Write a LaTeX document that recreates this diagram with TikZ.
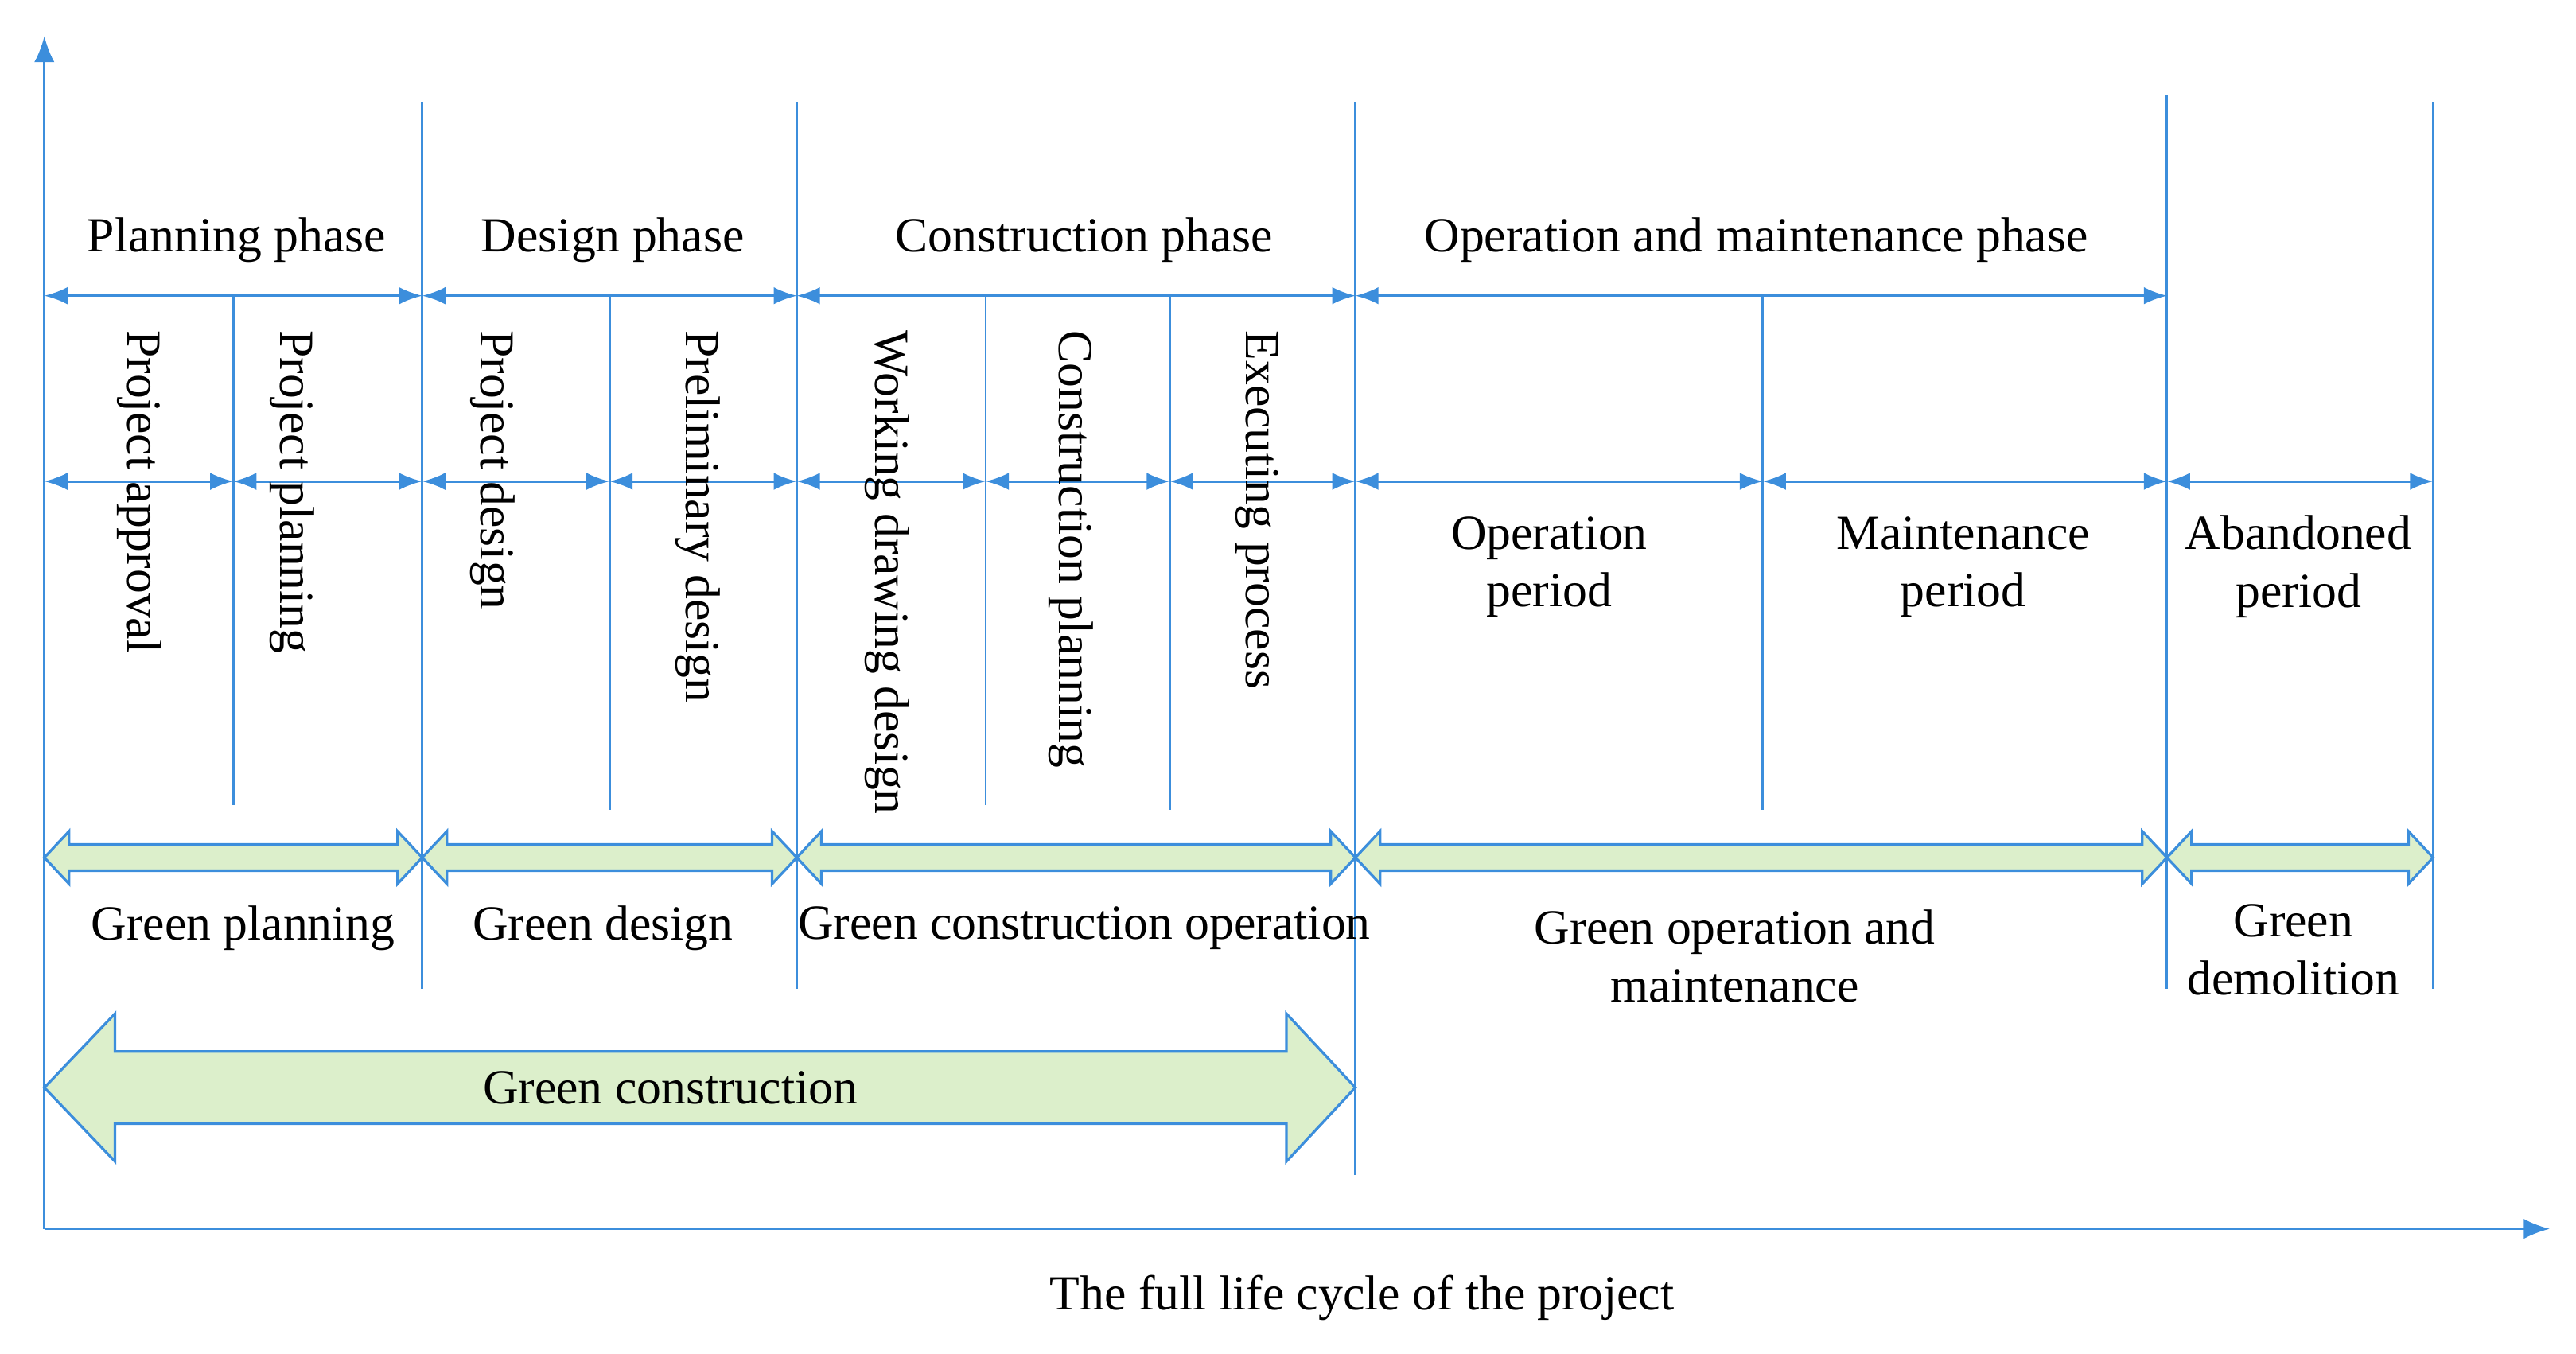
\documentclass[tikz,border=0pt]{standalone}
\usepackage{fontspec}
\setmainfont{Liberation Serif}
\usetikzlibrary{arrows.meta}
\definecolor{lb}{HTML}{3C8EDC}
\definecolor{lg}{HTML}{DCEFCB}
\newcommand\garrow[3]{\filldraw[draw=lb,fill=lg,line width=0.9pt] (#1,#3) -- (#1+15,#3-16) -- (#1+15,#3-8) -- (#2-15,#3-8) -- (#2-15,#3-16) -- (#2,#3) -- (#2-15,#3+16) -- (#2-15,#3+8) -- (#1+15,#3+8) -- (#1+15,#3+16) -- cycle;}
\tikzset{
 ln/.style={draw=lb,line width=0.8pt},
 dar/.style={ln,{Latex[length=8pt,width=6pt]}-{Latex[length=8pt,width=6pt]}},
 lbl/.style={font=\fontsize{17}{20}\selectfont,align=center},
 rot/.style={lbl,rotate=-90,anchor=west}
}
\begin{document}
\begin{tikzpicture}[x=0.02cm,y=-0.02cm]
\useasboundingbox (0,0) rectangle (1568,824);
% axes
\draw[ln,-{Latex[length=9pt,width=7pt]}] (27,748) -- (27,22);
\draw[ln,-{Latex[length=9pt,width=7pt]}] (27,748) -- (1552,748);
% verticals
\foreach \x/\a/\b in {257/62/602,485/62/602,825/62/715,1319/58/602,1481/62/602}
 \draw[ln] (\x,\a) -- (\x,\b);
\foreach \x/\b in {142/490,371/493,600/490,712/493,1073/493}
 \draw[ln] (\x,180) -- (\x,\b);
% phase arrows
\foreach \a/\b in {27/257,257/485,485/825,825/1319}
 \draw[dar] (\a,180) -- (\b,180);
\foreach \a/\b in {27/142,142/257,257/371,371/485,485/600,600/712,712/825,825/1073,1073/1319,1319/1481}
 \draw[dar] (\a,293) -- (\b,293);
% phase labels
\node[lbl] (p1) at (144,146) {Planning phase};
\node[lbl] (p2) at (373,146) {Design phase};
\node[lbl] (p3) at (660,146) {Construction phase};
\node[lbl] (p4) at (1069,146) {Operation and maintenance phase};
% rotated labels
\node[rot] (r1) at (85,195) {Project approval};
\node[rot] (r2) at (178,195) {Project planning};
\node[rot] (r3) at (300,195) {Project design};
\node[rot] (r4) at (425,195) {Preliminary design};
\node[rot] (r5) at (540,195) {Working drawing design};
\node[rot] (r6) at (652,195) {Construction planning};
\node[rot] (r7) at (765,195) {Executing process};
\node[lbl] (o1) at (943,345) {Operation\\period};
\node[lbl] (o2) at (1195,345) {Maintenance\\period};
\node[lbl] (o3) at (1399,345) {Abandoned\\period};
% green arrows
\garrow{27}{257}{522}
\garrow{257}{485}{522}
\garrow{485}{825}{522}
\garrow{825}{1319}{522}
\garrow{1319}{1481}{522}
\node[lbl] (g1) at (148,565) {Green planning};
\node[lbl] (g2) at (367,565) {Green design};
\node[lbl] (g3) at (660,565) {Green construction operation};
\node[lbl] (g4) at (1056,582) {Green operation and\\maintenance};
\node[lbl] (g5) at (1396,578) {Green\\demolition};
% big arrow
\filldraw[draw=lb,fill=lg,line width=0.9pt] (27,662) -- (70,617) -- (70,640) -- (783,640) -- (783,617) -- (825,662) -- (783,707) -- (783,684) -- (70,684) -- (70,707) -- cycle;
\node[lbl] (gc) at (408,662) {Green construction};
\node[lbl] (t) at (829,790) {The full life cycle of the project};
\end{tikzpicture}
\end{document}
